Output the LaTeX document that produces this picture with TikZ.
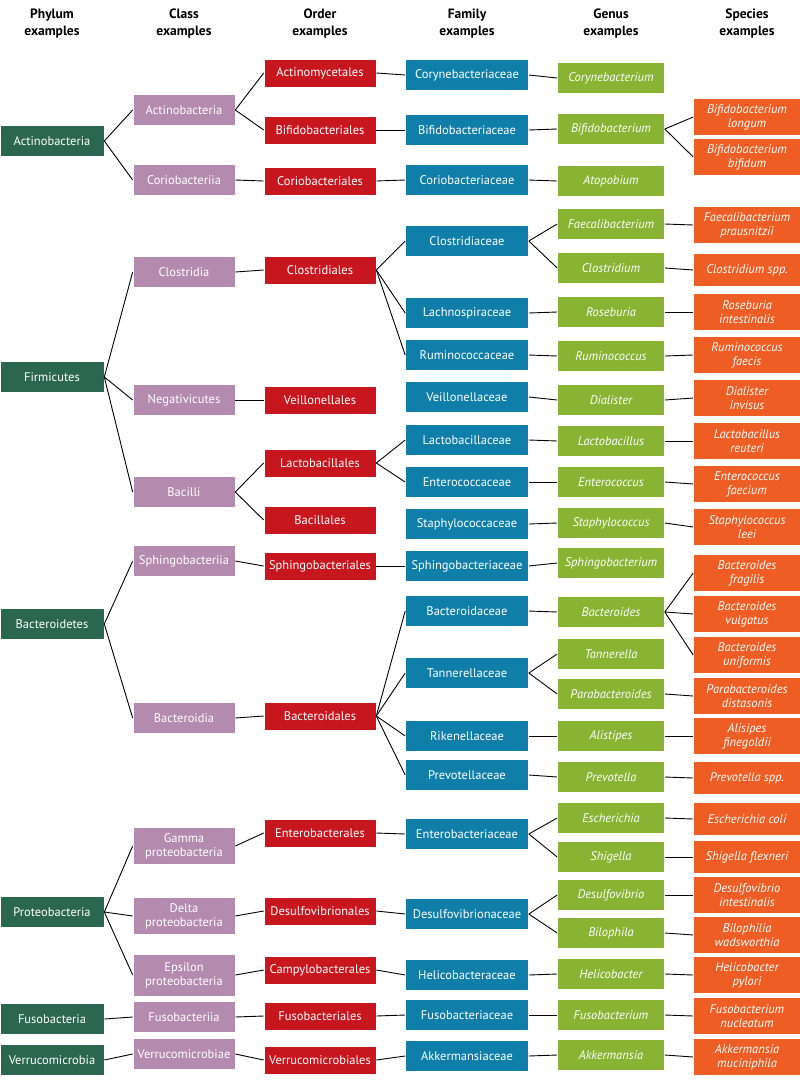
\documentclass[tikz,border=0pt]{standalone}
\usepackage{fontspec}
\setmainfont{PT Sans}
\usetikzlibrary{positioning}
\definecolor{phylumcol}{HTML}{2B6650}
\definecolor{classcol}{HTML}{B48AAE}
\definecolor{ordercol}{HTML}{C8161E}
\definecolor{familycol}{HTML}{0F7EA8}
\definecolor{genuscol}{HTML}{88B333}
\definecolor{speciescol}{HTML}{EE5D23}
\tikzset{
  box/.style={draw=white,line width=0.6pt,text=white,align=center,inner xsep=1pt,inner ysep=2pt,
    font=\fontsize{12.5}{14}\selectfont},
  phylumbox/.style={box,fill=phylumcol,minimum width=104,minimum height=31},
  classbox/.style={box,fill=classcol,minimum width=102,minimum height=31},
  orderbox/.style={box,fill=ordercol,minimum width=112,minimum height=28},
  familybox/.style={box,fill=familycol,minimum width=123,minimum height=31},
  genusbox/.style={box,fill=genuscol,minimum width=107,minimum height=31,font=\fontsize{12.5}{14}\selectfont\itshape},
  speciesbox/.style={box,fill=speciescol,minimum width=107,minimum height=33,font=\fontsize{12.5}{14}\selectfont\itshape},
  header/.style={align=center,font=\fontsize{13.5}{17}\selectfont\bfseries},
  link/.style={line width=0.9pt}
}
\begin{document}
\begin{tikzpicture}[x=1pt,y=-1pt]
    \useasboundingbox (0,0) rectangle (800,1082);
    % Column headers
    \node[header] (hP) at (52,24) {Phylum\\examples};
    \node[header] (hC) at (184,24) {Class\\examples};
    \node[header] (hO) at (320,24) {Order\\examples};
    \node[header] (hF) at (467,24) {Family\\examples};
    \node[header] (hG) at (611,24) {Genus\\examples};
    \node[header] (hS) at (747,24) {Species\\examples};

    % Phylum
    \node[phylumbox] (pAct) at (52,141) {Actinobacteria};
    \node[phylumbox] (pFir) at (52,377) {Firmicutes};
    \node[phylumbox] (pBac) at (52,624) {Bacteroidetes};
    \node[phylumbox] (pPro) at (52,912) {Proteobacteria};
    \node[phylumbox] (pFus) at (52,1019) {Fusobacteria};
    \node[phylumbox] (pVer) at (52,1060) {Verrucomicrobia};

    % Class
    \node[classbox] (cAct) at (184,110) {Actinobacteria};
    \node[classbox] (cCor) at (184,180) {Coriobacteriia};
    \node[classbox] (cClo) at (184,272) {Clostridia};
    \node[classbox] (cNeg) at (184,400) {Negativicutes};
    \node[classbox] (cBci) at (184,492) {Bacilli};
    \node[classbox] (cSph) at (184,561) {Sphingobacteriia};
    \node[classbox] (cBad) at (184,718) {Bacteroidia};
    \node[classbox,minimum height=37] (cGam) at (184,846) {Gamma\\proteobacteria};
    \node[classbox,minimum height=37] (cDel) at (184,916) {Delta\\proteobacteria};
    \node[classbox,minimum height=42] (cEps) at (184,975) {Epsilon\\proteobacteria};
    \node[classbox] (cFus) at (184,1017) {Fusobacteriia};
    \node[classbox] (cVer) at (184,1054) {Verrucomicrobiae};

    % Order
    \node[orderbox] (oAcm) at (320,73) {Actinomycetales};
    \node[orderbox] (oBif) at (320,130) {Bifidobacteriales};
    \node[orderbox] (oCor) at (320,181) {Coriobacteriales};
    \node[orderbox] (oClo) at (320,270) {Clostridiales};
    \node[orderbox] (oVei) at (320,400) {Veillonellales};
    \node[orderbox] (oLac) at (320,463) {Lactobacillales};
    \node[orderbox] (oBal) at (320,520) {Bacillales};
    \node[orderbox] (oSph) at (320,566) {Sphingobacteriales};
    \node[orderbox] (oBad) at (320,716) {Bacteroidales};
    \node[orderbox] (oEnt) at (320,833) {Enterobacterales};
    \node[orderbox] (oDes) at (320,911) {Desulfovibrionales};
    \node[orderbox] (oCam) at (320,970) {Campylobacterales};
    \node[orderbox] (oFus) at (320,1016) {Fusobacteriales};
    \node[orderbox] (oVer) at (320,1060) {Verrucomicrobiales};

    % Family
    \node[familybox] (fCor) at (467,75) {Corynebacteriaceae};
    \node[familybox] (fBif) at (467,130) {Bifidobacteriaceae};
    \node[familybox] (fCob) at (467,180) {Coriobacteriaceae};
    \node[familybox] (fClo) at (467,241) {Clostridiaceae};
    \node[familybox] (fLan) at (467,313) {Lachnospiraceae};
    \node[familybox] (fRum) at (467,355) {Ruminococcaceae};
    \node[familybox] (fVei) at (467,397) {Veillonellaceae};
    \node[familybox] (fLac) at (467,440) {Lactobacillaceae};
    \node[familybox] (fEnc) at (467,482) {Enterococcaceae};
    \node[familybox] (fSta) at (467,524) {Staphylococcaceae};
    \node[familybox] (fSph) at (467,566) {Sphingobacteriaceae};
    \node[familybox] (fBad) at (467,611) {Bacteroidaceae};
    \node[familybox] (fTan) at (467,673) {Tannerellaceae};
    \node[familybox] (fRik) at (467,736) {Rikenellaceae};
    \node[familybox] (fPre) at (467,775) {Prevotellaceae};
    \node[familybox] (fEnt) at (467,834) {Enterobacteriaceae};
    \node[familybox] (fDes) at (467,914) {Desulfovibrionaceae};
    \node[familybox] (fHel) at (467,975) {Helicobacteraceae};
    \node[familybox] (fFus) at (467,1015) {Fusobacteriaceae};
    \node[familybox] (fAkk) at (467,1056) {Akkermansiaceae};

    % Genus
    \node[genusbox] (gCor) at (611,78) {Corynebacterium};
    \node[genusbox] (gBif) at (611,129) {Bifidobacterium};
    \node[genusbox] (gAto) at (611,181) {Atopobium};
    \node[genusbox] (gFae) at (611,224) {Faecalibacterium};
    \node[genusbox] (gClo) at (611,268) {Clostridium};
    \node[genusbox] (gRos) at (611,312) {Roseburia};
    \node[genusbox] (gRum) at (611,356) {Ruminococcus};
    \node[genusbox] (gDia) at (611,400) {Dialister};
    \node[genusbox] (gLac) at (611,441) {Lactobacillus};
    \node[genusbox] (gEnc) at (611,482) {Enterococcus};
    \node[genusbox] (gSta) at (611,523) {Staphylococcus};
    \node[genusbox] (gSph) at (611,563) {Sphingobacterium};
    \node[genusbox] (gBad) at (611,612) {Bacteroides};
    \node[genusbox] (gTan) at (611,654) {Tannerella};
    \node[genusbox] (gPab) at (611,694) {Parabacteroides};
    \node[genusbox] (gAli) at (611,736) {Alistipes};
    \node[genusbox] (gPre) at (611,777) {Prevotella};
    \node[genusbox] (gEsc) at (611,818) {Escherichia};
    \node[genusbox] (gShi) at (611,857) {Shigella};
    \node[genusbox] (gDes) at (611,895) {Desulfovibrio};
    \node[genusbox] (gBil) at (611,933) {Bilophila};
    \node[genusbox] (gHel) at (611,974) {Helicobacter};
    \node[genusbox] (gFus) at (611,1015) {Fusobacterium};
    \node[genusbox] (gAkk) at (611,1055) {Akkermansia};

    % Species
    \node[speciesbox,minimum height=37] (sBlo) at (747,117) {Bifidobacterium\\longum};
    \node[speciesbox,minimum height=37] (sBbi) at (747,157) {Bifidobacterium\\bifidum};
    \node[speciesbox,minimum height=37] (sFpr) at (747,225) {Faecalibacterium\\prausnitzii};
    \node[speciesbox] (sClo) at (747,270) {Clostridium spp.};
    \node[speciesbox,minimum height=37] (sRos) at (747,312) {Roseburia\\intestinalis};
    \node[speciesbox,minimum height=37] (sRum) at (747,355) {Ruminococcus\\faecis};
    \node[speciesbox,minimum height=37] (sDia) at (747,398) {Dialister\\invisus};
    \node[speciesbox,minimum height=37] (sLac) at (747,441) {Lactobacillus\\reuteri};
    \node[speciesbox,minimum height=37] (sEnc) at (747,484) {Enterococcus\\faecium};
    \node[speciesbox,minimum height=37] (sSta) at (747,527) {Staphylococcus\\leei};
    \node[speciesbox,minimum height=37] (sBfr) at (747,573) {Bacteroides\\fragilis};
    \node[speciesbox,minimum height=37] (sBvu) at (747,614) {Bacteroides\\vulgatus};
    \node[speciesbox,minimum height=37] (sBun) at (747,655) {Bacteroides\\uniformis};
    \node[speciesbox,minimum height=37] (sPab) at (747,696) {Parabacteroides\\distasonis};
    \node[speciesbox,minimum height=37] (sAli) at (747,736) {Alisipes\\finegoldii};
    \node[speciesbox] (sPre) at (747,778) {Prevotella spp.};
    \node[speciesbox] (sEsc) at (747,819) {Escherichia coli};
    \node[speciesbox] (sShi) at (747,857) {Shigella flexneri};
    \node[speciesbox,minimum height=37] (sDes) at (747,895) {Desulfovibrio\\intestinalis};
    \node[speciesbox,minimum height=37] (sBil) at (747,935) {Bilophilia\\wadsworthia};
    \node[speciesbox,minimum height=37] (sHel) at (747,975) {Helicobacter\\pylori};
    \node[speciesbox,minimum height=37] (sFus) at (747,1016) {Fusobacterium\\nucleatum};
    \node[speciesbox,minimum height=37] (sAkk) at (747,1057) {Akkermansia\\muciniphila};

    % Connectors
    \foreach \a/\b in {pAct/cAct,pAct/cCor,pFir/cClo,pFir/cNeg,pFir/cBci,pBac/cSph,pBac/cBad,
        pPro/cGam,pPro/cDel,pPro/cEps,pFus/cFus,pVer/cVer,
        cAct/oAcm,cAct/oBif,cCor/oCor,cClo/oClo,cNeg/oVei,cBci/oLac,cBci/oBal,cSph/oSph,cBad/oBad,
        cGam/oEnt,cDel/oDes,cEps/oCam,cFus/oFus,cVer/oVer,
        oAcm/fCor,oBif/fBif,oCor/fCob,oClo/fClo,oClo/fLan,oClo/fRum,oLac/fLac,oLac/fEnc,
        oSph/fSph,oBad/fBad,oBad/fTan,oBad/fRik,oBad/fPre,oEnt/fEnt,oDes/fDes,oCam/fHel,oFus/fFus,oVer/fAkk,
        fCor/gCor,fBif/gBif,fCob/gAto,fClo/gFae,fClo/gClo,fLan/gRos,fRum/gRum,fVei/gDia,fLac/gLac,
        fEnc/gEnc,fSta/gSta,fSph/gSph,fBad/gBad,fTan/gTan,fTan/gPab,fRik/gAli,fPre/gPre,
        fEnt/gEsc,fEnt/gShi,fDes/gDes,fDes/gBil,fHel/gHel,fFus/gFus,fAkk/gAkk,
        gBif/sBlo,gBif/sBbi,gFae/sFpr,gClo/sClo,gRos/sRos,gRum/sRum,gDia/sDia,gLac/sLac,gEnc/sEnc,
        gSta/sSta,gBad/sBfr,gBad/sBvu,gBad/sBun,gPab/sPab,gAli/sAli,gPre/sPre,gEsc/sEsc,gShi/sShi,
        gDes/sDes,gBil/sBil,gHel/sHel,gFus/sFus,gAkk/sAkk}
        \draw[link] (\a.east) -- (\b.west);
\end{tikzpicture}
\end{document}
